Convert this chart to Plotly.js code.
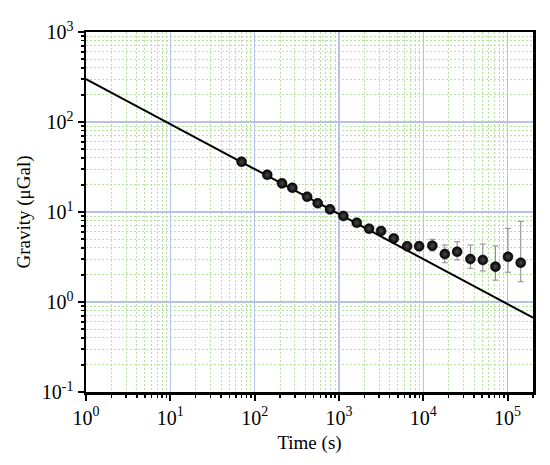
<!DOCTYPE html>
<html><head><meta charset="utf-8">
<script src="https://cdn.plot.ly/plotly-3.0.1.min.js"></script>
<style>html,body{margin:0;padding:0;background:#fff}</style>
</head><body>
<div id="chart" style="width:550px;height:465px"></div>
<script>
var timeS = [70, 141, 211, 280, 419, 560, 783, 1127, 1625, 2275, 3155, 4467, 6430, 8920, 12800, 18000, 25200, 36200, 50800, 71700, 101000, 143000];
var gravity = [36.2, 25.9, 20.8, 18.6, 14.8, 12.5, 10.7, 9.03, 7.6, 6.53, 6.15, 5.09, 4.16, 4.16, 4.23, 3.41, 3.62, 3.0, 2.93, 2.47, 3.18, 2.73];
var errPlus = [0, 0, 0, 0, 0, 0, 0, 0, 0, 0, 0, 0.15, 0.2, 0.52, 0.74, 0.89, 1.06, 1.3, 1.48, 1.72, 3.41, 5.15];
var errMinus = [0, 0, 0, 0, 0, 0, 0, 0, 0, 0, 0, 0.15, 0.2, 0.44, 0.54, 0.68, 0.69, 0.63, 0.72, 0.72, 1.04, 1.05];
var fitT = [1, 200000];
var fitCoef = 300, fitExp = -0.5;
var fitG = fitT.map(function(t){return fitCoef*Math.pow(t, fitExp);});
var xTickVals = [1, 10, 100, 1000, 10000, 100000];
var xTickText = ['10<sup>0</sup>','10<sup>1</sup>','10<sup>2</sup>','10<sup>3</sup>','10<sup>4</sup>','10<sup>5</sup>'];
var yTickVals = [0.1, 1, 10, 100, 1000];
var yTickText = ['10<sup>-1</sup>','10<sup>0</sup>','10<sup>1</sup>','10<sup>2</sup>','10<sup>3</sup>'];

var traces = [
  {x: fitT, y: fitG, mode: 'lines', line: {color: '#000', width: 2}, hoverinfo: 'skip'},
  {x: timeS, y: gravity, mode: 'markers',
   marker: {color: '#000', size: 10, gradient: {type: 'radial', color: '#4a4a4a'}, line: {width: 0.5, color: '#000'}},
   error_y: {type: 'data', array: errPlus, arrayminus: errMinus, symmetric: false, color: '#8a8a8a', thickness: 1, width: 3}}
];
var axisCommon = {
  type: 'log', showline: true, linecolor: '#000', linewidth: 2.5, mirror: true,
  ticks: 'outside', ticklen: 6, tickwidth: 2, tickcolor: '#000',
  showgrid: true, gridcolor: '#b8c1e6', gridwidth: 1.2, zeroline: false,
  tickfont: {family: 'Liberation Serif', size: 20, color: '#000'},
  minor: {ticks: 'outside', ticklen: 3, tickwidth: 1.5, tickcolor: '#000', dtick: 'D1',
          showgrid: true, gridcolor: '#b3e69c', griddash: '2px,2px', gridwidth: 1}
};
var layout = {
  width: 550, height: 465, showlegend: false,
  paper_bgcolor: '#fff', plot_bgcolor: '#fff',
  margin: {l: 86, r: 17, t: 32, b: 73},
  xaxis: Object.assign({}, axisCommon, {range: [0, Math.log10(200000)], tickmode: 'array', tickvals: xTickVals, ticktext: xTickText,
    title: {text: 'Time (s)', font: {family: 'Liberation Serif', size: 19, color: '#000'}, standoff: 8}}),
  yaxis: Object.assign({}, axisCommon, {range: [-1, 3], tickmode: 'array', tickvals: yTickVals, ticktext: yTickText,
    title: {text: 'Gravity (μGal)', font: {family: 'Liberation Serif', size: 19, color: '#000'}, standoff: 6}})
};
Plotly.newPlot('chart', traces, layout, {displayModeBar: false, staticPlot: true});
</script>
</body></html>
